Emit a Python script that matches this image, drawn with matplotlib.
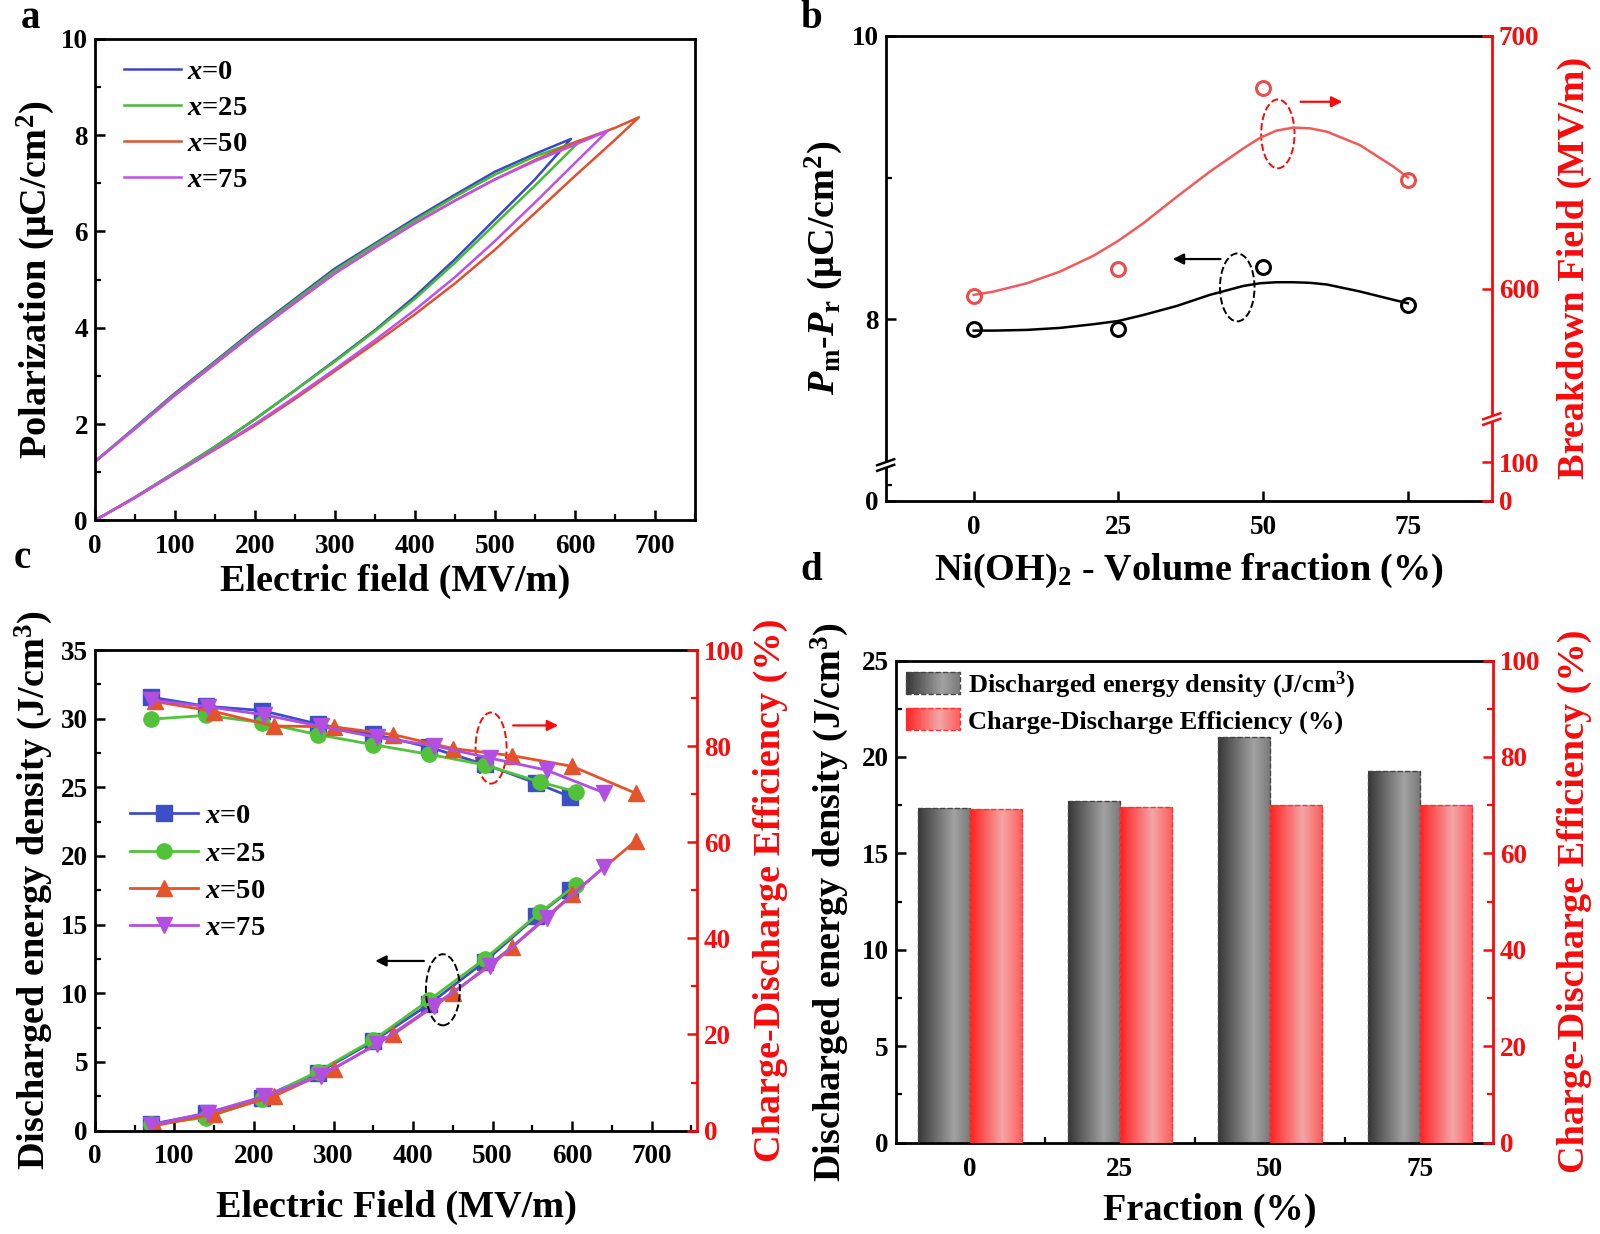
import numpy as np
import matplotlib
matplotlib.use("Agg")
import matplotlib.pyplot as plt
from matplotlib.patches import Ellipse, Rectangle
from matplotlib.legend_handler import HandlerBase
from matplotlib.colors import LinearSegmentedColormap
from matplotlib.ticker import MultipleLocator, FixedLocator, NullLocator, FuncFormatter, NullFormatter

# ======================= DATA =======================
series_labels = [r"$x$=0", r"$x$=25", r"$x$=50", r"$x$=75"]

# (a) unipolar P-E loops: lower (charging) and upper branches
a_E_x0_low = [0, 50, 100, 150, 200, 250, 300, 350, 400, 450, 500, 550, 595]
a_P_x0_low = [0, 0.48, 1.0, 1.53, 2.1, 2.7, 3.32, 3.95, 4.65, 5.42, 6.25, 7.08, 7.92]
a_E_x0_up = [0, 50, 100, 150, 200, 250, 300, 350, 400, 450, 500, 550, 595]
a_P_x0_up = [1.22, 1.93, 2.64, 3.30, 3.97, 4.60, 5.23, 5.75, 6.27, 6.76, 7.24, 7.61, 7.92]

a_E_x25_low = [0, 50, 100, 150, 200, 250, 300, 350, 400, 450, 500, 550, 607]
a_P_x25_low = [0, 0.48, 1.0, 1.53, 2.1, 2.7, 3.3, 3.93, 4.6, 5.35, 6.15, 6.95, 7.89]
a_E_x25_up = [0, 50, 100, 150, 200, 250, 300, 350, 400, 450, 500, 550, 607]
a_P_x25_up = [1.22, 1.92, 2.62, 3.28, 3.94, 4.57, 5.19, 5.72, 6.23, 6.72, 7.18, 7.56, 7.89]

a_E_x50_low = [0, 50, 100, 150, 200, 250, 300, 350, 400, 450, 500, 550, 600, 650, 680]
a_P_x50_low = [0, 0.47, 0.97, 1.47, 1.97, 2.52, 3.1, 3.68, 4.28, 4.92, 5.62, 6.38, 7.15, 7.9, 8.37]
a_E_x50_up = [0, 50, 100, 150, 200, 250, 300, 350, 400, 450, 500, 550, 600, 650, 680]
a_P_x50_up = [1.22, 1.9, 2.6, 3.25, 3.9, 4.52, 5.13, 5.66, 6.17, 6.64, 7.08, 7.48, 7.85, 8.15, 8.37]

a_E_x75_low = [0, 50, 100, 150, 200, 250, 300, 350, 400, 450, 500, 550, 600, 641]
a_P_x75_low = [0, 0.47, 0.98, 1.48, 2.0, 2.56, 3.14, 3.74, 4.37, 5.05, 5.8, 6.6, 7.42, 8.09]
a_E_x75_up = [0, 50, 100, 150, 200, 250, 300, 350, 400, 450, 500, 550, 600, 641]
a_P_x75_up = [1.22, 1.9, 2.6, 3.25, 3.9, 4.52, 5.13, 5.66, 6.17, 6.64, 7.08, 7.46, 7.8, 8.09]

# (b) Pm-Pr and breakdown field vs Ni(OH)2 fraction
b_fraction = [0, 25, 50, 75]
b_pm_pr = [7.93, 7.93, 8.37, 8.10]
b_breakdown = [597.0, 607.8, 679.5, 643.0]
b_fit_x = [0, 3.4, 9.2, 14.9, 20.7, 25, 29.3, 35.1, 40.8, 46.6, 49.5, 52.3, 55.2, 58.1, 61, 66.7, 72.5, 75]
b_fit_pm_pr = [7.921, 7.921, 7.926, 7.940, 7.966, 7.989, 8.031, 8.095, 8.173, 8.236, 8.255,
               8.262, 8.262, 8.258, 8.246, 8.197, 8.138, 8.114]
b_fit_breakdown = [597.6, 598.9, 602.2, 606.8, 613.1, 619.0, 625.9, 636.4, 646.3, 655.5, 659.7,
                   662.5, 663.7, 663.4, 662.1, 656.8, 648.3, 644.0]

# (c) discharged energy density and efficiency vs field
c_E_x0 = [70, 140, 210, 280, 350, 420, 490, 555, 597]
c_W_x0 = [0.45, 1.25, 2.4, 4.2, 6.5, 9.2, 12.3, 15.6, 17.5]
c_eta_x0 = [90.2, 88.3, 87.4, 84.6, 82.5, 79.8, 76.2, 72.3, 69.5]

c_E_x25 = [70, 140, 210, 280, 350, 420, 490, 560, 605]
c_W_x25 = [0.45, 0.95, 2.3, 4.3, 6.6, 9.5, 12.5, 15.9, 17.9]
c_eta_x25 = [85.6, 86.4, 84.9, 82.4, 80.3, 78.3, 76.1, 72.5, 70.5]

c_E_x50 = [75, 150, 225, 300, 375, 450, 525, 600, 680]
c_W_x50 = [0.35, 1.2, 2.5, 4.5, 7.0, 10.0, 13.4, 17.2, 21.1]
c_eta_x50 = [89.3, 87.2, 84.2, 84.0, 82.4, 79.5, 78.0, 75.8, 70.2]

c_E_x75 = [71, 142, 213, 284, 355, 426, 497, 568, 640]
c_W_x75 = [0.4, 1.3, 2.5, 4.0, 6.3, 9.1, 12.0, 15.5, 19.2]
c_eta_x75 = [89.6, 88.2, 86.5, 84.1, 81.8, 80.1, 77.5, 75.0, 70.3]

# (d) bars
d_fraction = [0, 25, 50, 75]
d_energy = [17.35, 17.7, 21.05, 19.25]
d_efficiency = [69.1, 69.6, 70.0, 70.0]

# ======================= STYLE =======================
plt.rcParams.update({
    'font.family': ['Liberation Serif', 'DejaVu Serif'],
    'font.weight': 'bold',
    'axes.labelweight': 'bold',
    'mathtext.fontset': 'custom',
    'mathtext.rm': 'Liberation Serif:bold',
    'mathtext.it': 'Liberation Serif:italic:bold',
    'mathtext.bf': 'Liberation Serif:bold',
    'xtick.direction': 'in',
    'ytick.direction': 'in',
    'xtick.labelsize': 19.5,
    'ytick.labelsize': 19.5,
    'axes.labelsize': 27.5,
    'axes.linewidth': 2.0,
    'xtick.major.width': 1.8, 'ytick.major.width': 1.8,
    'xtick.minor.width': 1.6, 'ytick.minor.width': 1.6,
    'xtick.major.size': 7, 'ytick.major.size': 7,
    'xtick.minor.size': 4, 'ytick.minor.size': 4,
    'xtick.major.pad': 10, 'ytick.major.pad': 5,
})

RED = '#fa0a0a'
COLS_A = ['#3a48c8', '#44bb33', '#e05030', '#c050e8']
COLS_C = ['#3d4ec9', '#52c23a', '#e4542c', '#b24fe0']
MARKERS = ['s', 'o', '^', 'v']

W, H = 1600, 1234
fig = plt.figure(figsize=(W / 100, H / 100), dpi=100)


def axes_px(l, r, t, b):
    return fig.add_axes([l / W, 1 - b / H, (r - l) / W, (b - t) / H])


# ======================= (a) =======================
axA = axes_px(94.9, 694.9, 38.8, 520.4)
loops = [(a_E_x0_low, a_P_x0_low, a_E_x0_up, a_P_x0_up),
         (a_E_x25_low, a_P_x25_low, a_E_x25_up, a_P_x25_up),
         (a_E_x50_low, a_P_x50_low, a_E_x50_up, a_P_x50_up),
         (a_E_x75_low, a_P_x75_low, a_E_x75_up, a_P_x75_up)]
for (El, Pl, Eu, Pu), c, lab in zip(loops, COLS_A, series_labels):
    E = np.concatenate([El, Eu[::-1]])
    P = np.concatenate([Pl, Pu[::-1]])
    axA.plot(E, P, color=c, lw=1.8, label=lab)
axA.set_xlim(0, 750)
axA.set_ylim(0, 10)
axA.xaxis.set_major_locator(FixedLocator(range(0, 701, 100)))
axA.xaxis.set_minor_locator(FixedLocator(range(50, 751, 100)))
axA.yaxis.set_major_locator(MultipleLocator(2))
axA.yaxis.set_minor_locator(MultipleLocator(1))
axA.set_xlabel('Electric field (MV/m)')
axA.set_ylabel(r'Polarization (μC/cm$^\mathrm{2}$)')
axA.xaxis.set_label_coords(0.5, -0.090)
axA.yaxis.set_label_coords(-0.063, 0.5)
axA.legend(loc='upper left', bbox_to_anchor=(0.049, 0.958), frameon=False,
           fontsize=20.5, borderpad=0, borderaxespad=0, handlelength=2.0,
           handletextpad=0.2, labelspacing=0.35)

# ======================= (b) =======================
axB = axes_px(885.7, 1491.8, 35.7, 501.0)
axB2 = axB.twinx()

L_val = np.array([-10, 0, 1, 7, 10, 20], float)
L_dsp = np.array([-320, 0, 32, 39.75, 465.3, 1883.8])
R_val = np.array([-100, 0, 200, 550, 700, 800], float)
R_dsp = np.array([-39, 0, 78, 85.6, 465.3, 718.4])


def make_funcs(v, d):
    return (lambda x: np.interp(x, v, d), lambda y: np.interp(y, d, v))


axB.set_yscale('function', functions=make_funcs(L_val, L_dsp))
axB2.set_yscale('function', functions=make_funcs(R_val, R_dsp))

axB.plot(b_fit_x, b_fit_pm_pr, color='k', lw=1.8)
axB.plot(b_fraction, b_pm_pr, 'o', mfc='none', mec='k', ms=10, mew=2.2)
axB2.plot(b_fit_x, b_fit_breakdown, color='#f25a5a', lw=1.8)
axB2.plot(b_fraction, b_breakdown, 'o', mfc='none', mec='#ee4b4b', ms=10, mew=2.2)

axB.set_xlim(-15.2, 89.5)
axB.set_ylim(0, 10)
axB2.set_ylim(0, 700)
axB.xaxis.set_major_locator(FixedLocator(b_fraction))
axB.xaxis.set_minor_locator(NullLocator())
axB.yaxis.set_major_locator(FixedLocator([0, 8, 10]))
axB.yaxis.set_minor_locator(FixedLocator([0.5, 9]))
axB.yaxis.set_major_formatter(FuncFormatter(lambda v, p: f'{v:g}'))
axB.yaxis.set_minor_formatter(NullFormatter())
axB2.yaxis.set_major_locator(FixedLocator([0, 100, 600, 700]))
axB2.yaxis.set_minor_locator(NullLocator())
axB2.yaxis.set_major_formatter(FuncFormatter(lambda v, p: f'{v:g}'))
axB2.yaxis.set_minor_formatter(NullFormatter())
axB2.tick_params(axis='y', which='both', colors=RED)
axB2.spines['right'].set_color(RED)
for s in ['left', 'top', 'bottom']:
    axB2.spines[s].set_visible(False)
axB.spines['right'].set_visible(False)

axB.set_xlabel(r'Ni(OH)$_\mathrm{2}$ - Volume fraction (%)')
axB.set_ylabel(r'$P_\mathrm{m}$-$P_\mathrm{r}$ (μC/cm$^\mathrm{2}$)')
axB2.set_ylabel('Breakdown Field (MV/m)', color=RED)
axB.xaxis.set_label_coords(0.5, -0.108)
axB.yaxis.set_label_coords(-0.0666, 0.5)
axB2.yaxis.set_label_coords(1.108, 0.5)


def draw_break(ax, xf, yf, color):
    W_ax = ax.get_position().width * W
    H_ax = ax.get_position().height * H
    dx = 8.5 / W_ax
    dy = 3.0 / H_ax
    sep = 2.8 / H_ax
    ax.plot([xf, xf], [yf - sep, yf + sep], color='white', lw=4, transform=ax.transAxes,
            clip_on=False, zorder=10, solid_capstyle='butt')
    for o in (-sep, sep):
        ax.plot([xf - dx, xf + dx], [yf + o - dy, yf + o + dy], color=color, lw=1.8,
                transform=ax.transAxes, clip_on=False, zorder=11)


draw_break(axB2, 0.0, 36 / 465.3, 'k')
draw_break(axB2, 1.0, 82 / 465.3, RED)

axB2.add_patch(Ellipse((0.647, 0.789), 0.055, 0.148, transform=axB2.transAxes, fill=False,
                       ec=RED, ls='--', lw=1.4))
axB2.annotate('', xy=(0.758, 0.858), xytext=(0.680, 0.858), xycoords='axes fraction',
              arrowprops=dict(arrowstyle='-|>', color=RED, lw=1.6, mutation_scale=16))
axB2.add_patch(Ellipse((0.580, 0.459), 0.057, 0.146, transform=axB2.transAxes, fill=False,
                       ec='k', ls='--', lw=1.4))
axB2.annotate('', xy=(0.469, 0.520), xytext=(0.557, 0.520), xycoords='axes fraction',
              arrowprops=dict(arrowstyle='-|>', color='k', lw=1.6, mutation_scale=16))

# ======================= (c) =======================
axC = axes_px(94.9, 697.0, 650.0, 1130.6)
axC2 = axC.twinx()
c_sets = [(c_E_x0, c_W_x0, c_eta_x0), (c_E_x25, c_W_x25, c_eta_x25),
          (c_E_x50, c_W_x50, c_eta_x50), (c_E_x75, c_W_x75, c_eta_x75)]
for (E, Wd, eta), col, mk, lab in zip(c_sets, COLS_C, MARKERS, series_labels):
    ms = 11 if mk in ('s', 'o') else 12
    axC.plot(E, Wd, color=col, marker=mk, ms=ms, lw=2.0, label=lab)
    axC2.plot(E, eta, color=col, marker=mk, ms=ms, lw=2.0)
axC.set_xlim(0, 757)
axC.set_ylim(0, 35)
axC2.set_ylim(0, 100)
axC.xaxis.set_major_locator(FixedLocator(range(0, 701, 100)))
axC.xaxis.set_minor_locator(FixedLocator(range(50, 751, 100)))
axC.yaxis.set_major_locator(MultipleLocator(5))
axC.yaxis.set_minor_locator(MultipleLocator(2.5))
axC2.yaxis.set_major_locator(MultipleLocator(20))
axC2.yaxis.set_minor_locator(MultipleLocator(10))
axC2.tick_params(axis='y', which='both', colors=RED)
axC2.spines['right'].set_color(RED)
for s in ['left', 'top', 'bottom']:
    axC2.spines[s].set_visible(False)
axC.spines['right'].set_visible(False)
axC.set_xlabel('Electric Field (MV/m)')
axC.set_ylabel(r'Discharged energy density (J/cm$^\mathrm{3}$)')
axC2.set_ylabel('Charge-Discharge Efficiency (%)', color=RED)
axC.xaxis.set_label_coords(0.5, -0.123)
axC.yaxis.set_label_coords(-0.0665, 0.5)
axC2.yaxis.set_label_coords(1.093, 0.5)
axC.legend(loc='upper left', bbox_to_anchor=(0.058, 0.681), frameon=False,
           fontsize=20.5, borderpad=0, borderaxespad=0, handlelength=2.4,
           handletextpad=0.25, labelspacing=0.4)

axC2.add_patch(Ellipse((0.658, 0.796), 0.0515, 0.148, transform=axC2.transAxes, fill=False,
                       ec=RED, ls='--', lw=1.4))
axC2.annotate('', xy=(0.774, 0.843), xytext=(0.690, 0.843), xycoords='axes fraction',
              arrowprops=dict(arrowstyle='-|>', color=RED, lw=1.6, mutation_scale=16))
axC2.add_patch(Ellipse((0.578, 0.293), 0.0565, 0.148, transform=axC2.transAxes, fill=False,
                       ec='k', ls='--', lw=1.4))
axC2.annotate('', xy=(0.461, 0.353), xytext=(0.551, 0.353), xycoords='axes fraction',
              arrowprops=dict(arrowstyle='-|>', color='k', lw=1.6, mutation_scale=16))

# ======================= (d) =======================
axD = axes_px(895.5, 1493.0, 660.5, 1142.7)
axD2 = axD.twinx()
cmap_dark = LinearSegmentedColormap.from_list('dk', [(0, '#363636'), (0.68, '#a2a2a2'), (1, '#787878')])
cmap_red = LinearSegmentedColormap.from_list('rd', [(0, '#ff2020'), (0.62, '#f4a6a6'), (1, '#ff5a5a')])
bw = 8.67
grad = np.linspace(0, 1, 256).reshape(1, -1)


def grad_bars(ax, xs, hs, cmap, edge):
    bars = ax.bar(xs, hs, width=bw, align='edge', facecolor='none', edgecolor=edge,
                  linestyle='--', linewidth=1.0, zorder=3)
    for b in bars:
        x0, y0, w, h = b.get_x(), b.get_y(), b.get_width(), b.get_height()
        im = ax.imshow(grad, extent=[x0, x0 + w, y0, y0 + h], aspect='auto', cmap=cmap,
                       origin='lower', zorder=2, interpolation='bilinear')
        im.set_clip_path(b)


grad_bars(axD, [f - bw for f in d_fraction], d_energy, cmap_dark, '#444444')
grad_bars(axD2, d_fraction, d_efficiency, cmap_red, '#ff3030')
axD.set_xlim(-12.4, 87.2)
axD.set_ylim(0, 25)
axD2.set_ylim(0, 100)
axD.xaxis.set_major_locator(FixedLocator(d_fraction))
axD.xaxis.set_minor_locator(FixedLocator([12.5, 37.5, 62.5]))
axD.yaxis.set_major_locator(MultipleLocator(5))
axD.yaxis.set_minor_locator(MultipleLocator(2.5))
axD2.yaxis.set_major_locator(MultipleLocator(20))
axD2.yaxis.set_minor_locator(MultipleLocator(10))
axD2.tick_params(axis='y', which='both', colors=RED)
axD2.spines['right'].set_color(RED)
for s in ['left', 'top', 'bottom']:
    axD2.spines[s].set_visible(False)
axD.spines['right'].set_visible(False)
axD.set_xlabel('Fraction (%)')
axD.set_ylabel(r'Discharged energy density (J/cm$^\mathrm{3}$)')
axD2.set_ylabel('Charge-Discharge Efficiency (%)', color=RED)
axD.xaxis.set_label_coords(0.526, -0.105)
axD.yaxis.set_label_coords(-0.0745, 0.5)
axD2.yaxis.set_label_coords(1.107, 0.5)


class GradHandler(HandlerBase):
    def __init__(self, cmap, edge):
        super().__init__()
        self.cmap = cmap
        self.edge = edge

    def create_artists(self, legend, orig_handle, xdescent, ydescent, width, height, fontsize, trans):
        arts = []
        n = 40
        for i in range(n):
            arts.append(Rectangle((-xdescent + width * i / n, -ydescent), width / n * 1.1, height,
                                  facecolor=self.cmap((i + 0.5) / n), edgecolor='none', transform=trans))
        arts.append(Rectangle((-xdescent, -ydescent), width, height, facecolor='none',
                              edgecolor=self.edge, linestyle='--', lw=1.0, transform=trans))
        return arts


h1 = Rectangle((0, 0), 1, 1)
h2 = Rectangle((0, 0), 1, 1)
axD2.legend([h1, h2], [r'Discharged energy density (J/cm$^\mathrm{3}$)', 'Charge-Discharge Efficiency (%)'],
            handler_map={h1: GradHandler(cmap_dark, '#444444'), h2: GradHandler(cmap_red, '#ff3030')},
            loc='upper left', bbox_to_anchor=(0.0176, 0.982), frameon=False, fontsize=19,
            borderpad=0, borderaxespad=0, handlelength=2.05, handleheight=0.9,
            handletextpad=0.3, labelspacing=0.3)

# ======================= panel letters =======================
for txt, x, y in [('a', 30.6, 18.4), ('b', 811, 18.4), ('c', 22.4, 559), ('d', 811, 571)]:
    fig.text(x / W, 1 - y / H, txt, fontsize=28, fontweight='bold', ha='center', va='center')

fig.savefig('out.png', dpi=100)
